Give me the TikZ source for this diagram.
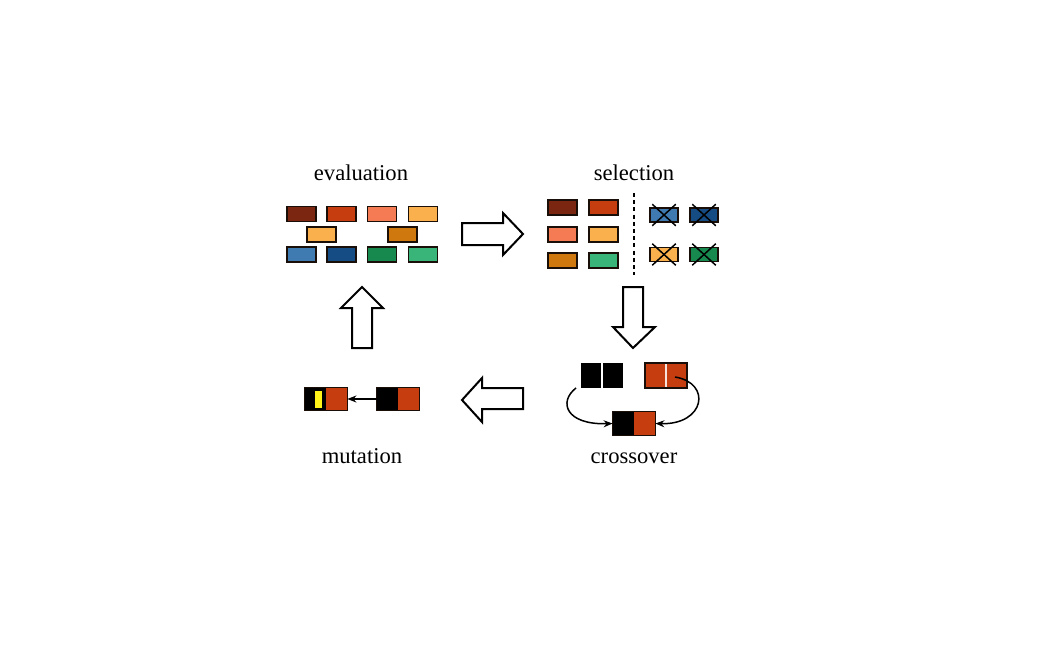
\documentclass[tikz,border=0pt]{standalone}
\usepackage{fontspec}
\setmainfont{Liberation Serif}
\usetikzlibrary{arrows.meta}
\definecolor{cA}{HTML}{7A2610}
\definecolor{cB}{HTML}{C63D0F}
\definecolor{cC}{HTML}{F47B54}
\definecolor{cD}{HTML}{FAB04D}
\definecolor{cE}{HTML}{CF780E}
\definecolor{cF}{HTML}{3F7BB0}
\definecolor{cG}{HTML}{164C84}
\definecolor{cH}{HTML}{17894F}
\definecolor{cI}{HTML}{3AB57A}
\definecolor{edge}{HTML}{1A0E08}
\tikzset{
  gene/.style={draw=edge, line width=0.75pt, fill=#1, rectangle, inner sep=0pt,
    minimum width=14.5pt, minimum height=7.5pt},
  selgene/.style={gene=#1, minimum width=14pt, minimum height=7pt},
  sq/.style={rectangle, inner sep=0pt, minimum width=10.5pt, minimum height=12.5pt, fill=#1},
  label/.style={font=\fontsize{11.3}{13}\selectfont, anchor=base, inner sep=0pt},
  bigarrow/.style={draw=black, line width=1pt, fill=white, line join=miter},
  cross/.style={draw=black, line width=0.75pt},
  curvearrow/.style={draw=black, line width=0.75pt, -{Stealth[length=4.5pt,width=3.5pt]}}
}
\begin{document}
\begin{tikzpicture}[x=0.5pt,y=-0.5pt]
\useasboundingbox (0,0) rectangle (1038,648);
% labels
\node[label] (leval) at (361,180) {evaluation};
\node[label] (lsel) at (634,180) {selection};
\node[label] (lmut) at (362,463) {mutation};
\node[label] (lcro) at (634,463) {crossover};
% evaluation population
\node[gene=cA] (e1) at (301.5,214) {};
\node[gene=cB] (e2) at (341.5,214) {};
\node[gene=cC] (e3) at (382,214) {};
\node[gene=cD] (e4) at (423,214) {};
\node[gene=cD] (e5) at (321.5,234.5) {};
\node[gene=cE] (e6) at (402.5,234.5) {};
\node[gene=cF] (e7) at (301.5,254.5) {};
\node[gene=cG] (e8) at (341.5,254.5) {};
\node[gene=cH] (e9) at (382,254.5) {};
\node[gene=cI] (e10) at (423,254.5) {};
% selection
\node[gene=cA] (s1) at (562.5,207.5) {};
\node[gene=cB] (s2) at (603.5,207.5) {};
\node[gene=cC] (s3) at (562.5,234.5) {};
\node[gene=cD] (s4) at (603.5,234.5) {};
\node[gene=cE] (s5) at (562.5,260.5) {};
\node[gene=cI] (s6) at (603.5,260.5) {};
\coordinate (dtop) at (634,193);
\coordinate (dbot) at (634,275);
\draw[line width=1pt, dash pattern=on 2pt off 1.6pt] (dtop) -- (dbot);
\foreach \n/\c/\x/\y in {x1/cF/664/215, x2/cG/704/215, x3/cD/664/254.5, x4/cH/704/254.5}{
  \node[selgene=\c] (\n) at (\x,\y) {};
  \draw[cross] ([shift={(3,-3)}]\n.north west) -- ([shift={(-3,3)}]\n.south east);
  \draw[cross] ([shift={(-3,-3)}]\n.north east) -- ([shift={(3,3)}]\n.south west);
}
% big arrows
\draw[bigarrow] (462,223) -- (503,223) -- (503,213) -- (523,234) -- (503,255) -- (503,245) -- (462,245) -- cycle;
\draw[bigarrow] (623,287) -- (643,287) -- (643,327) -- (655,327) -- (633,348) -- (613,327) -- (623,327) -- cycle;
\draw[bigarrow] (523,388) -- (482,388) -- (482,378) -- (462,400) -- (482,422) -- (482,409) -- (523,409) -- cycle;
\draw[bigarrow] (352,348) -- (352,308) -- (341,308) -- (362,287) -- (383,308) -- (372,308) -- (372,348) -- cycle;
% crossover
\node[sq=black] (p1a) at (591.5,375.5) {};
\node[sq=black] (p1b) at (612.5,375.5) {};
\draw[white, line width=0.8pt] (602,363) -- (602,388);
\node[sq=cB, draw=edge, line width=0.75pt, minimum width=21pt] (p2) at (666,375.5) {};
\draw[white!85!cB, line width=0.8pt] (666,364) -- (666,387);
\node[sq=black, minimum height=11.5pt] (c1) at (623.5,423.5) {};
\node[sq=cB, minimum height=11.5pt] (c2) at (644.5,423.5) {};
\draw[edge, line width=0.75pt] (c1.north west) rectangle (c2.south east);
\coordinate (lstart) at (576,388);
\coordinate (rstart) at (675,377);
\draw[curvearrow] (lstart) .. controls (558,402) and (566,425) .. (c1.west);
\draw[curvearrow] (rstart) .. controls (712,383) and (705,425) .. (c2.east);
% mutation
\node[sq=black, minimum height=11pt] (m1a) at (315.5,399) {};
\node[sq=cB, minimum height=11pt] (m1b) at (336.5,399) {};
\fill[yellow!90!white] (315,390.5) rectangle (322,407.5);
\draw[edge, line width=0.75pt] (m1a.north west) rectangle (m1b.south east);
\node[sq=black, minimum height=11pt] (m2a) at (387.5,399) {};
\node[sq=cB, minimum height=11pt] (m2b) at (408.5,399) {};
\draw[edge, line width=0.75pt] (m2a.north west) rectangle (m2b.south east);
\draw[curvearrow] (m2a.west) -- (m1b.east);
\end{tikzpicture}
\end{document}
